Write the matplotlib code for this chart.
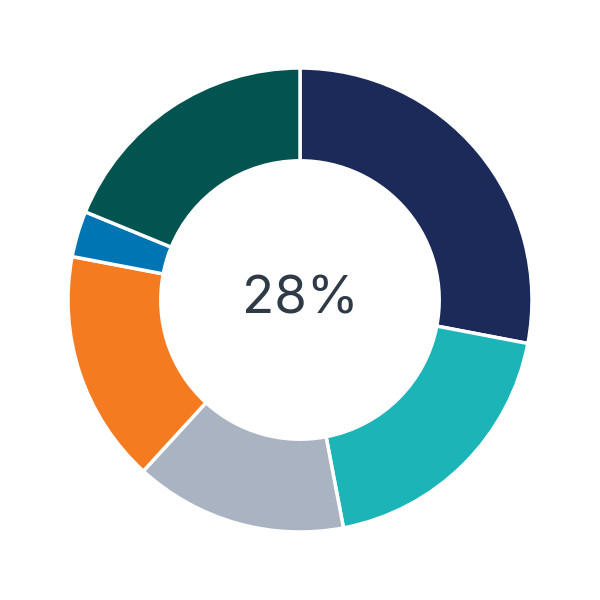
import matplotlib
matplotlib.use("Agg")
import matplotlib.pyplot as plt

# slice shares in percent, clockwise from 12 o'clock
labels = ["A", "B", "C", "D", "E", "F"]
values = [28, 19, 14.8, 16.2, 3.2, 18.8]
colors = ["#1c2a5a", "#1cb5b7", "#a9b3c1", "#f47b20", "#0075b4", "#01544f"]
center_label = "28%"

fig = plt.figure(figsize=(6, 6), dpi=100)
ax = fig.add_axes([0, 0, 1, 1])

ax.pie(values, colors=colors, startangle=90, counterclock=False,
       radius=1.0,
       wedgeprops=dict(width=0.4, edgecolor="white", linewidth=2.5))

lim = 300 / 232
ax.set_xlim(-lim, lim)
ax.set_ylim(-lim, lim)
ax.set_aspect("equal")
ax.axis("off")

ax.text(0, 0, center_label, ha="center", va="center",
        fontsize=38, family="Inter", fontweight="normal", color="#2e3a46")

fig.savefig("out.png", dpi=100, facecolor="white")
